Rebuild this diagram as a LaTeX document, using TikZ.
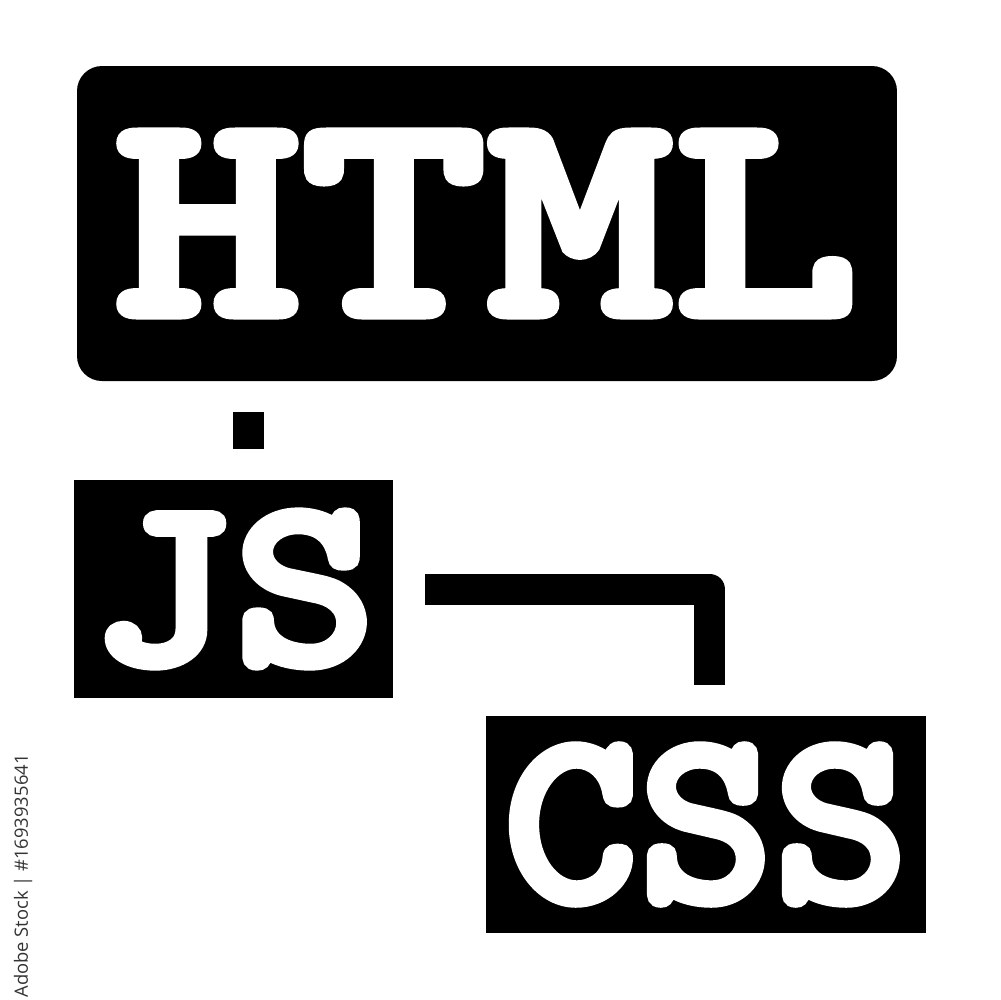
\documentclass[tikz,border=0pt]{standalone}
\usepackage{fontspec}
\newfontfamily\htmlfont{lmmonolt10-bold.otf}[FakeBold=3]
\newfontfamily\jsfont{lmmonolt10-bold.otf}[FakeBold=3.5]
\newfontfamily\sidefont{Open Sans}
\begin{document}
\begin{tikzpicture}[x=0.1mm,y=-0.1mm,
  blackbox/.style={fill=black, draw=none, inner sep=0pt, text=white},
  link/.style={line width=3.1mm, line join=round, line cap=butt}]
\useasboundingbox (0,0) rectangle (1000,1000);
\node[blackbox, rounded corners=2.5mm, minimum width=82mm, minimum height=31.5mm] (html) at (487,223.5)
  {\resizebox{74.5mm}{18.3mm}{\htmlfont HTML}};
\node[blackbox, minimum width=3.1mm, minimum height=3.7mm] (dot) at (248.5,430.5) {};
\node[blackbox, minimum width=31.9mm, minimum height=21.8mm] (js) at (233.5,589)
  {\resizebox{28.5mm}{15.2mm}{\jsfont JS}};
\node[blackbox, minimum width=44mm, minimum height=21.7mm] (css) at (706,824.5)
  {\resizebox{40.5mm}{15.5mm}{\jsfont CSS}};
\coordinate (l1) at (425,589);
\coordinate (l2) at (709.5,685);
\draw[link] (l1) -| (l2);
\node[rotate=90, text=black!80, inner sep=0pt] (side) at (23,876)
  {\resizebox{24.3mm}{!}{\sidefont Adobe Stock | \#1693935641}};
\end{tikzpicture}
\end{document}
